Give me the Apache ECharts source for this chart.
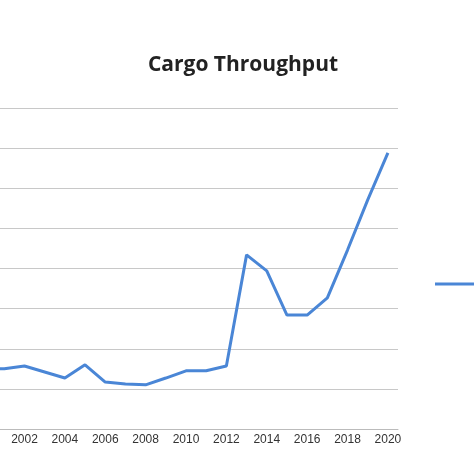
<!DOCTYPE html>
<html>
<head>
<meta charset="UTF-8">
<style>
  html, body { margin: 0; padding: 0; background: #fff; }
  #main { width: 474px; height: 474px; }
</style>
</head>
<body>
<div id="main"></div>
<script src="https://cdn.jsdelivr.net/npm/echarts@6/dist/echarts.min.js"></script>
<script>
var years = ['2000','2001','2002','2003','2004','2005','2006','2007','2008','2009','2010',
             '2011','2012','2013','2014','2015','2016','2017','2018','2019','2020'];
var throughput = [1.5, 1.5, 1.57, 1.42, 1.27, 1.6, 1.17, 1.12, 1.1, 1.27, 1.45,
                  1.45, 1.57, 4.34, 3.94, 2.84, 2.84, 3.27, 4.46, 5.71, 6.88];

var chart = echarts.init(document.getElementById('main'));
chart.setOption({
  backgroundColor: '#fff',
  animation: false,
  title: {
    text: 'Cargo Throughput',
    left: 238, top: 50, textAlign: 'center',
    textStyle: { fontFamily: 'Open Sans', fontSize: 21, fontWeight: 'bold', color: '#222' }
  },
  legend: {
    left: 430, top: 273,
    itemWidth: 40, itemHeight: 3,
    icon: 'rect',
    data: ['Cargo Throughput'],
    textStyle: { fontSize: 12, color: '#333' }
  },
  grid: { left: -26, right: 76, top: 108, bottom: 45, containLabel: false, outerBoundsMode: 'none' },
  xAxis: {
    type: 'category',
    data: years,
    boundaryGap: true,
    axisTick: { show: false },
    axisLine: { lineStyle: { color: '#bbb' } },
    axisLabel: {
      interval: function (i) { return i % 2 === 0; },
      color: '#333', fontSize: 12, fontFamily: 'Liberation Sans', margin: 5
    }
  },
  yAxis: {
    type: 'value', min: 0, max: 8, interval: 1,
    axisLabel: { show: false },
    axisLine: { show: false },
    splitLine: { lineStyle: { color: '#c8c8c8' } }
  },
  series: [{
    name: 'Cargo Throughput',
    type: 'line',
    data: throughput,
    symbol: 'none',
    lineStyle: { color: '#4a86d6', width: 3 },
    itemStyle: { color: '#4a86d6' }
  }]
});
</script>
</body>
</html>
